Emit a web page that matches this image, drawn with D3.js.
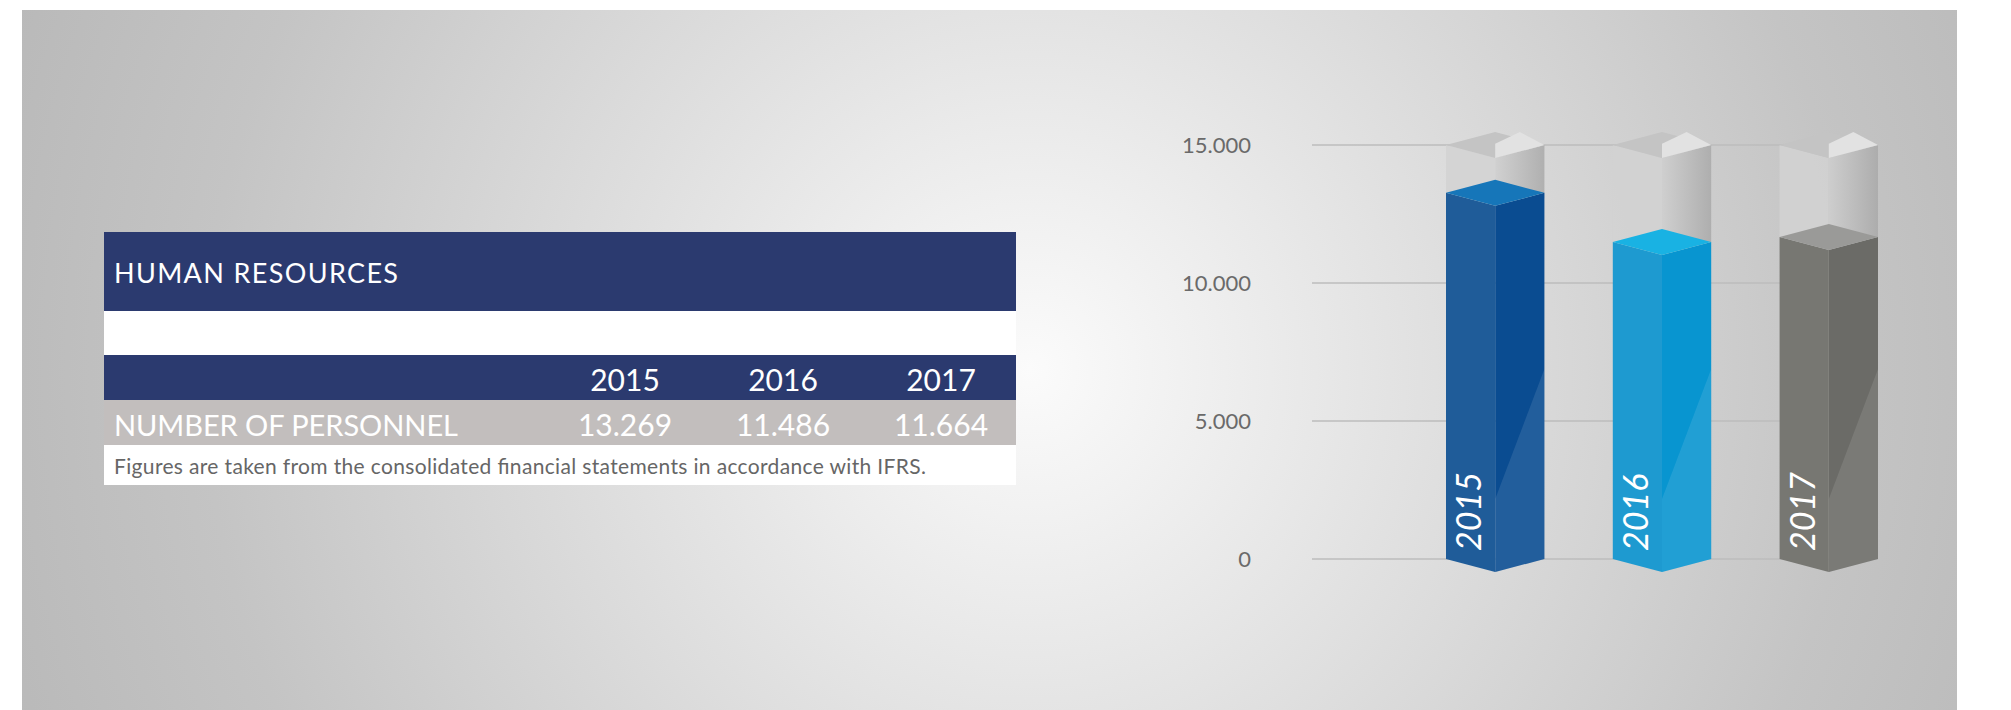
<!DOCTYPE html><html><head><meta charset="utf-8">
<script src="https://cdn.jsdelivr.net/npm/d3@7/dist/d3.min.js"></script>
<style>body{margin:0;background:#fff}svg{display:block}</style></head><body>
<svg id="c" width="2011" height="710"></svg>
<script>
const years=["2015","2016","2017"];
const personnel=[13269,11486,11664];
const valueLabels=["13.269","11.486","11.664"];
const yTicks=[0,5000,10000,15000];
const tickLabels=["0","5.000","10.000","15.000"];
const title="HUMAN RESOURCES";
const rowLabel="NUMBER OF PERSONNEL";
const note="Figures are taken from the consolidated financial statements in accordance with IFRS.";
const palettes=[{l:"#1f5c99",r:"#0a4c91",t:"#1676b9"},{l:"#1e9ad0",r:"#0895d0",t:"#19b2e3"},{l:"#777772",r:"#6b6b67",t:"#9a9a98"}];

const svg=d3.select("#c");
const defs=svg.append("defs");
const rg=defs.append("radialGradient").attr("id","bg").attr("gradientUnits","userSpaceOnUse")
 .attr("cx",1030).attr("cy",370).attr("r",1100);
rg.append("stop").attr("offset",0).attr("stop-color","#fbfbfb");
rg.append("stop").attr("offset",0.75).attr("stop-color","#c4c4c4");
rg.append("stop").attr("offset",1).attr("stop-color","#b8b8b8");
const gl=defs.append("linearGradient").attr("id","glassR");
gl.append("stop").attr("offset",0).attr("stop-color","#cfcfcf");
gl.append("stop").attr("offset",1).attr("stop-color","#a9a9a9");
svg.append("rect").attr("x",22).attr("y",10).attr("width",1935).attr("height",700).attr("fill","url(#bg)");

const F="Lato, 'Open Sans', sans-serif";
const tx=104,tw=912;
const T=svg.append("g");
T.append("rect").attr("x",tx).attr("y",232).attr("width",tw).attr("height",79).attr("fill","#2b3a6f");
T.append("rect").attr("x",tx).attr("y",311).attr("width",tw).attr("height",44).attr("fill","#fff");
T.append("rect").attr("x",tx).attr("y",355).attr("width",tw).attr("height",45).attr("fill","#2b3a6f");
T.append("rect").attr("x",tx).attr("y",400).attr("width",tw).attr("height",45).attr("fill","#c2bebd");
T.append("rect").attr("x",tx).attr("y",445).attr("width",tw).attr("height",40).attr("fill","#fff");
T.append("text").attr("x",114).attr("y",283).attr("fill","#fff").attr("font-family",F).attr("font-size",27).attr("textLength",284).text(title);
const cx=d3.scalePoint().domain(years).range([625,941]);
T.selectAll(".yr").data(years).join("text").attr("x",d=>cx(d)).attr("y",391).attr("text-anchor","middle")
 .attr("fill","#fff").attr("font-family",F).attr("font-size",30).text(d=>d);
T.append("text").attr("x",114).attr("y",436).attr("fill","#fff").attr("font-family",F).attr("font-size",29).attr("textLength",344).text(rowLabel);
T.selectAll(".v").data(valueLabels).join("text").attr("x",(d,i)=>cx(years[i])).attr("y",436).attr("text-anchor","middle")
 .attr("fill","#fff").attr("font-family",F).attr("font-size",30).text(d=>d);
T.append("text").attr("x",114).attr("y",474).attr("fill","#666").attr("font-family",F).attr("font-size",21).attr("textLength",812).text(note);

const y=d3.scaleLinear().domain([0,15000]).range([559,145]);
const x=d3.scaleBand().domain(years).range([1446,1878]).paddingInner(0.41).paddingOuter(0);
const G=svg.append("g");
G.selectAll(".g").data(yTicks).join("line").attr("x1",1312).attr("x2",1878).attr("y1",d=>y(d)).attr("y2",d=>y(d)).attr("stroke","#bdbdbd").attr("stroke-width",1.5);
G.selectAll(".tl").data(yTicks).join("text").attr("x",1251).attr("y",d=>y(d)+8).attr("text-anchor","end")
 .attr("fill","#6a6a6a").attr("font-family",F).attr("font-size",22).text((d,i)=>tickLabels[i]);
const dep=13;
years.forEach((yr,i)=>{
 const x0=x(yr),w=x.bandwidth(),xm=x0+w/2,x1=x0+w,p=palettes[i];
 const yt=y(personnel[i]),yb=y(0),yg=y(15000);
 const g=G.append("g");
 g.append("path").attr("d",`M${x0},${yg}L${xm},${yg+dep}L${xm},${yt}L${x0},${yt}Z`).attr("fill","#d2d2d2").attr("opacity",0.85);
 g.append("path").attr("d",`M${xm},${yg+dep}L${x1},${yg}L${x1},${yt}L${xm},${yt}Z`).attr("fill","url(#glassR)").attr("opacity",0.85);
 g.append("path").attr("d",`M${x0},${yg}L${xm},${yg-dep}L${x1},${yg}L${xm},${yg+dep}Z`).attr("fill","#c4c4c4");
 g.append("path").attr("d",`M${xm},${yg-dep*0.1}L${xm+w*0.25},${yg-dep}L${x1},${yg}L${xm},${yg+dep}Z`).attr("fill","#e2e2e2");
 g.append("path").attr("d",`M${x0},${yt}L${xm},${yt+dep}L${xm},${yb+dep}L${x0},${yb}Z`).attr("fill",p.l);
 g.append("path").attr("d",`M${xm},${yt+dep}L${x1},${yt}L${x1},${yb}L${xm},${yb+dep}Z`).attr("fill",p.r);
 g.append("path").attr("d",`M${x0},${yt}L${xm},${yt-dep}L${x1},${yt}L${xm},${yt+dep}Z`).attr("fill",p.t);
 g.append("path").attr("d",`M${xm},${yb-60}L${x1},${yb-190}L${x1},${yb}L${xm},${yb+dep}Z`).attr("fill","#fff").attr("opacity",0.1);
 g.append("text").attr("transform",`translate(${x0+w*0.36},${yb-8}) rotate(-90)`).attr("fill","#fff")
  .attr("font-family",F).attr("font-style","italic").attr("font-size",34).text(yr);
});
</script></body></html>
